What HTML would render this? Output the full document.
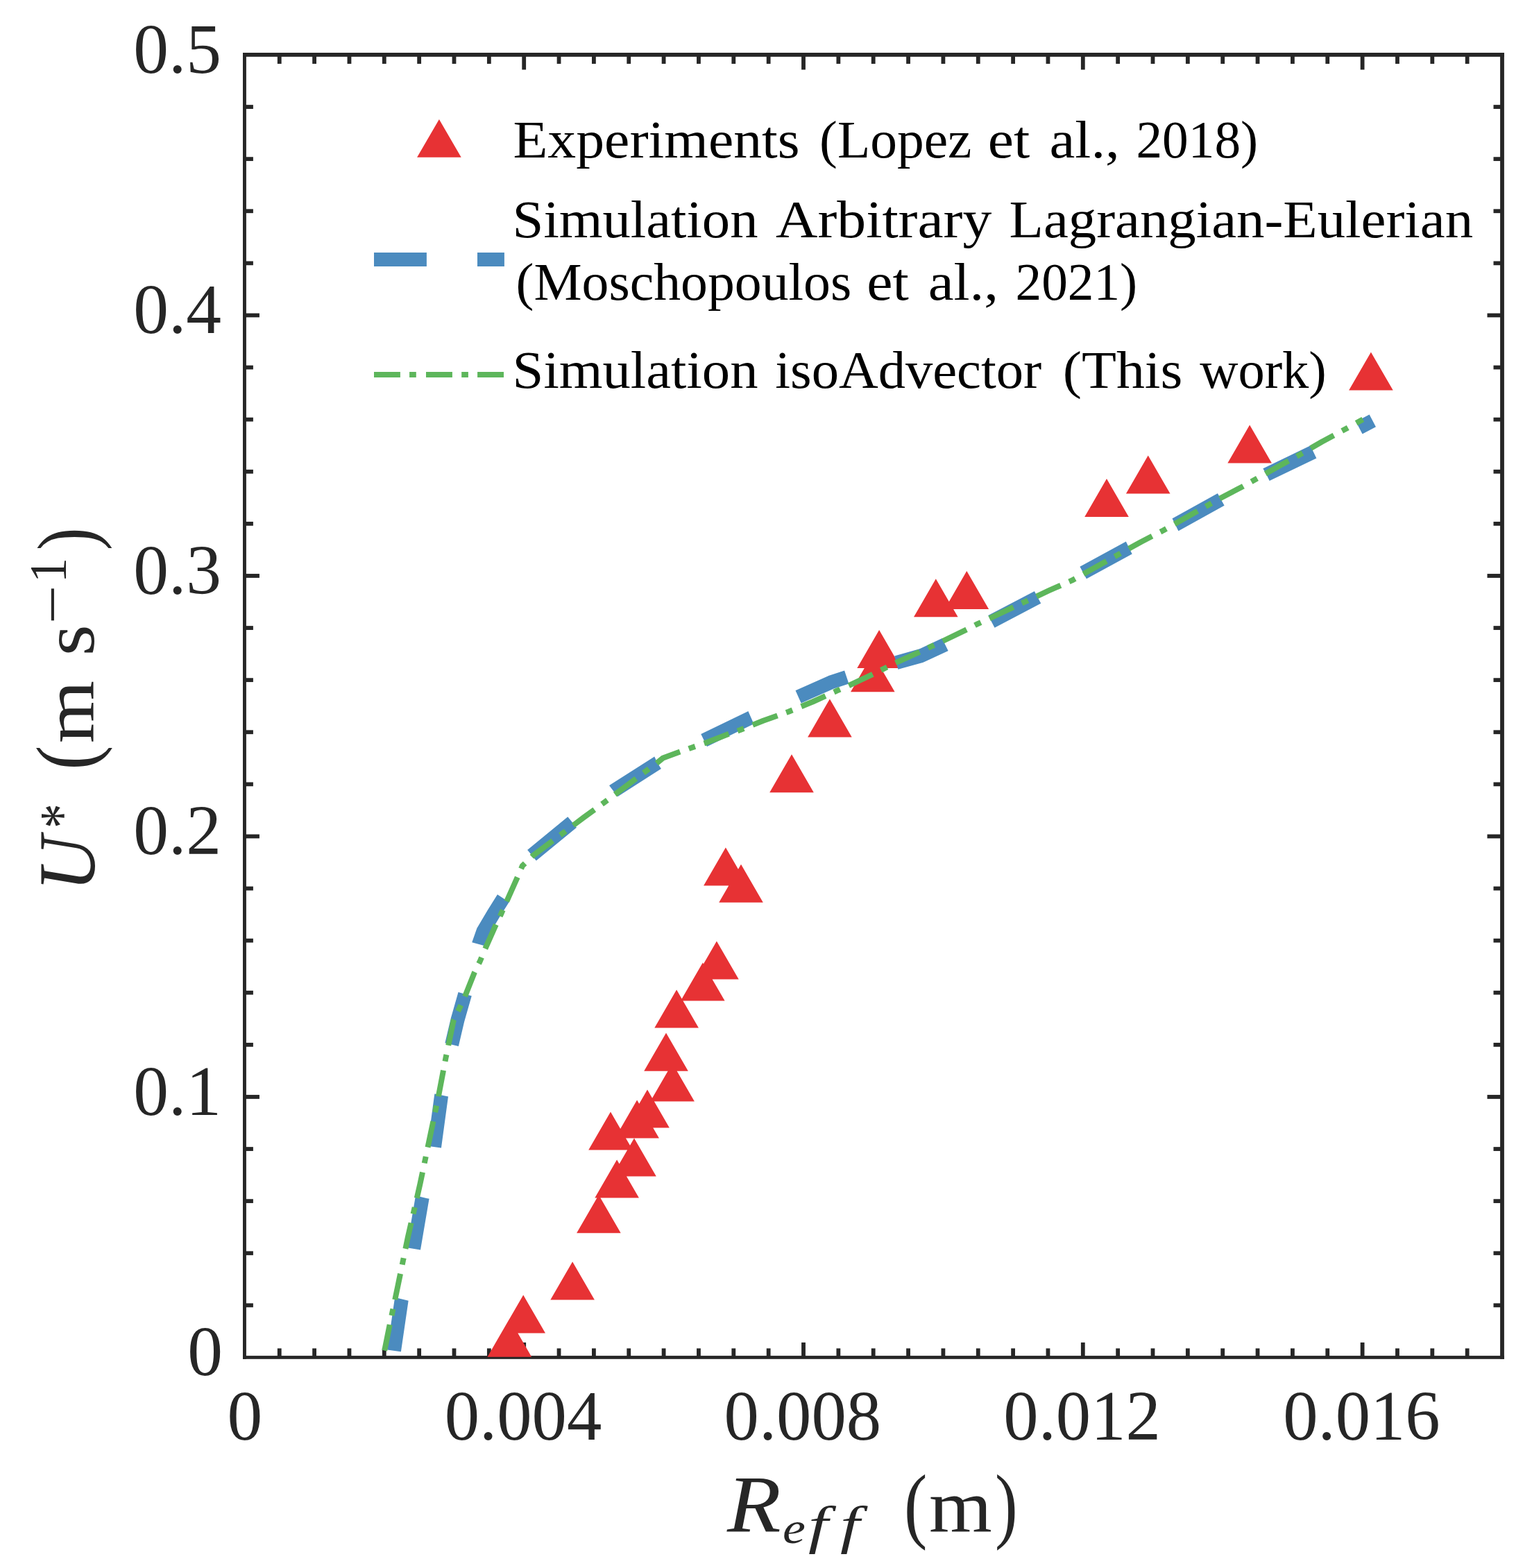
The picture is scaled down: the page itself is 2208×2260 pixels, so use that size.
<!DOCTYPE html>
<html><head><meta charset="utf-8"><title>U* vs R_eff</title>
<style>html,body{margin:0;padding:0;background:#fff;overflow:hidden}svg{display:block}text{font-kerning:none;font-variant-ligatures:none;font-family:"Liberation Serif",serif}</style>
</head><body>
<svg width="2208" height="2260" viewBox="0 0 2208 2260">
<rect width="2208" height="2260" fill="#fff"/>
<g fill="#262626"><rect x="350.0" y="76.0" width="4.9" height="1882.8"/><rect x="350.0" y="1954.1" width="1817.9" height="4.7"/><rect x="350.0" y="76.0" width="1817.9" height="5.8"/><rect x="2162.1" y="76.0" width="5.8" height="1882.8"/><rect x="399.85" y="1943.45" width="5.8" height="13.00"/><rect x="399.85" y="78.95" width="5.8" height="13.00"/><rect x="450.20" y="1943.45" width="5.8" height="13.00"/><rect x="450.20" y="78.95" width="5.8" height="13.00"/><rect x="500.55" y="1943.45" width="5.8" height="13.00"/><rect x="500.55" y="78.95" width="5.8" height="13.00"/><rect x="550.90" y="1943.45" width="5.8" height="13.00"/><rect x="550.90" y="78.95" width="5.8" height="13.00"/><rect x="601.25" y="1943.45" width="5.8" height="13.00"/><rect x="601.25" y="78.95" width="5.8" height="13.00"/><rect x="651.60" y="1943.45" width="5.8" height="13.00"/><rect x="651.60" y="78.95" width="5.8" height="13.00"/><rect x="701.95" y="1943.45" width="5.8" height="13.00"/><rect x="701.95" y="78.95" width="5.8" height="13.00"/><rect x="752.30" y="1934.95" width="5.8" height="21.50"/><rect x="752.30" y="78.95" width="5.8" height="21.50"/><rect x="802.65" y="1943.45" width="5.8" height="13.00"/><rect x="802.65" y="78.95" width="5.8" height="13.00"/><rect x="853.00" y="1943.45" width="5.8" height="13.00"/><rect x="853.00" y="78.95" width="5.8" height="13.00"/><rect x="903.35" y="1943.45" width="5.8" height="13.00"/><rect x="903.35" y="78.95" width="5.8" height="13.00"/><rect x="953.70" y="1943.45" width="5.8" height="13.00"/><rect x="953.70" y="78.95" width="5.8" height="13.00"/><rect x="1004.05" y="1943.45" width="5.8" height="13.00"/><rect x="1004.05" y="78.95" width="5.8" height="13.00"/><rect x="1054.40" y="1943.45" width="5.8" height="13.00"/><rect x="1054.40" y="78.95" width="5.8" height="13.00"/><rect x="1104.75" y="1943.45" width="5.8" height="13.00"/><rect x="1104.75" y="78.95" width="5.8" height="13.00"/><rect x="1155.10" y="1934.95" width="5.8" height="21.50"/><rect x="1155.10" y="78.95" width="5.8" height="21.50"/><rect x="1205.45" y="1943.45" width="5.8" height="13.00"/><rect x="1205.45" y="78.95" width="5.8" height="13.00"/><rect x="1255.80" y="1943.45" width="5.8" height="13.00"/><rect x="1255.80" y="78.95" width="5.8" height="13.00"/><rect x="1306.15" y="1943.45" width="5.8" height="13.00"/><rect x="1306.15" y="78.95" width="5.8" height="13.00"/><rect x="1356.50" y="1943.45" width="5.8" height="13.00"/><rect x="1356.50" y="78.95" width="5.8" height="13.00"/><rect x="1406.85" y="1943.45" width="5.8" height="13.00"/><rect x="1406.85" y="78.95" width="5.8" height="13.00"/><rect x="1457.20" y="1943.45" width="5.8" height="13.00"/><rect x="1457.20" y="78.95" width="5.8" height="13.00"/><rect x="1507.55" y="1943.45" width="5.8" height="13.00"/><rect x="1507.55" y="78.95" width="5.8" height="13.00"/><rect x="1557.90" y="1934.95" width="5.8" height="21.50"/><rect x="1557.90" y="78.95" width="5.8" height="21.50"/><rect x="1608.25" y="1943.45" width="5.8" height="13.00"/><rect x="1608.25" y="78.95" width="5.8" height="13.00"/><rect x="1658.60" y="1943.45" width="5.8" height="13.00"/><rect x="1658.60" y="78.95" width="5.8" height="13.00"/><rect x="1708.95" y="1943.45" width="5.8" height="13.00"/><rect x="1708.95" y="78.95" width="5.8" height="13.00"/><rect x="1759.30" y="1943.45" width="5.8" height="13.00"/><rect x="1759.30" y="78.95" width="5.8" height="13.00"/><rect x="1809.65" y="1943.45" width="5.8" height="13.00"/><rect x="1809.65" y="78.95" width="5.8" height="13.00"/><rect x="1860.00" y="1943.45" width="5.8" height="13.00"/><rect x="1860.00" y="78.95" width="5.8" height="13.00"/><rect x="1910.35" y="1943.45" width="5.8" height="13.00"/><rect x="1910.35" y="78.95" width="5.8" height="13.00"/><rect x="1960.70" y="1934.95" width="5.8" height="21.50"/><rect x="1960.70" y="78.95" width="5.8" height="21.50"/><rect x="2011.05" y="1943.45" width="5.8" height="13.00"/><rect x="2011.05" y="78.95" width="5.8" height="13.00"/><rect x="2061.40" y="1943.45" width="5.8" height="13.00"/><rect x="2061.40" y="78.95" width="5.8" height="13.00"/><rect x="2111.75" y="1943.45" width="5.8" height="13.00"/><rect x="2111.75" y="78.95" width="5.8" height="13.00"/><rect x="352.40" y="1878.45" width="12.50" height="5.8"/><rect x="2152.50" y="1878.45" width="12.50" height="5.8"/><rect x="352.40" y="1803.35" width="12.50" height="5.8"/><rect x="2152.50" y="1803.35" width="12.50" height="5.8"/><rect x="352.40" y="1728.25" width="12.50" height="5.8"/><rect x="2152.50" y="1728.25" width="12.50" height="5.8"/><rect x="352.40" y="1653.15" width="12.50" height="5.8"/><rect x="2152.50" y="1653.15" width="12.50" height="5.8"/><rect x="352.40" y="1578.05" width="21.50" height="5.8"/><rect x="2143.50" y="1578.05" width="21.50" height="5.8"/><rect x="352.40" y="1502.95" width="12.50" height="5.8"/><rect x="2152.50" y="1502.95" width="12.50" height="5.8"/><rect x="352.40" y="1427.85" width="12.50" height="5.8"/><rect x="2152.50" y="1427.85" width="12.50" height="5.8"/><rect x="352.40" y="1352.75" width="12.50" height="5.8"/><rect x="2152.50" y="1352.75" width="12.50" height="5.8"/><rect x="352.40" y="1277.65" width="12.50" height="5.8"/><rect x="2152.50" y="1277.65" width="12.50" height="5.8"/><rect x="352.40" y="1202.55" width="21.50" height="5.8"/><rect x="2143.50" y="1202.55" width="21.50" height="5.8"/><rect x="352.40" y="1127.45" width="12.50" height="5.8"/><rect x="2152.50" y="1127.45" width="12.50" height="5.8"/><rect x="352.40" y="1052.35" width="12.50" height="5.8"/><rect x="2152.50" y="1052.35" width="12.50" height="5.8"/><rect x="352.40" y="977.25" width="12.50" height="5.8"/><rect x="2152.50" y="977.25" width="12.50" height="5.8"/><rect x="352.40" y="902.15" width="12.50" height="5.8"/><rect x="2152.50" y="902.15" width="12.50" height="5.8"/><rect x="352.40" y="827.05" width="21.50" height="5.8"/><rect x="2143.50" y="827.05" width="21.50" height="5.8"/><rect x="352.40" y="751.95" width="12.50" height="5.8"/><rect x="2152.50" y="751.95" width="12.50" height="5.8"/><rect x="352.40" y="676.85" width="12.50" height="5.8"/><rect x="2152.50" y="676.85" width="12.50" height="5.8"/><rect x="352.40" y="601.75" width="12.50" height="5.8"/><rect x="2152.50" y="601.75" width="12.50" height="5.8"/><rect x="352.40" y="526.65" width="12.50" height="5.8"/><rect x="2152.50" y="526.65" width="12.50" height="5.8"/><rect x="352.40" y="451.55" width="21.50" height="5.8"/><rect x="2143.50" y="451.55" width="21.50" height="5.8"/><rect x="352.40" y="376.45" width="12.50" height="5.8"/><rect x="2152.50" y="376.45" width="12.50" height="5.8"/><rect x="352.40" y="301.35" width="12.50" height="5.8"/><rect x="2152.50" y="301.35" width="12.50" height="5.8"/><rect x="352.40" y="226.25" width="12.50" height="5.8"/><rect x="2152.50" y="226.25" width="12.50" height="5.8"/><rect x="352.40" y="151.15" width="12.50" height="5.8"/><rect x="2152.50" y="151.15" width="12.50" height="5.8"/></g>
<path fill="#E73234" d="M734.3 1900.7L766.1 1955.7L702.5 1955.7ZM754.2 1866.5L786.0 1921.5L722.4 1921.5ZM825.1 1818.6L856.9 1873.6L793.3 1873.6ZM862.9 1722.3L894.7 1777.3L831.1 1777.3ZM889.1 1671.5L920.9 1726.5L857.3 1726.5ZM914.0 1640.4L945.8 1695.4L882.2 1695.4ZM880.0 1602.6L911.8 1657.6L848.2 1657.6ZM918.1 1585.5L949.9 1640.5L886.3 1640.5ZM933.0 1570.5L964.8 1625.5L901.2 1625.5ZM969.1 1532.5L1000.9 1587.5L937.3 1587.5ZM960.0 1488.7L991.8 1543.7L928.2 1543.7ZM975.1 1426.4L1006.9 1481.4L943.3 1481.4ZM1012.8 1387.6L1044.6 1442.6L981.0 1442.6ZM1032.9 1356.4L1064.7 1411.4L1001.1 1411.4ZM1068.0 1245.8L1099.8 1300.8L1036.2 1300.8ZM1045.9 1221.5L1077.7 1276.5L1014.1 1276.5ZM1141.0 1087.3L1172.8 1142.3L1109.2 1142.3ZM1195.9 1007.4L1227.7 1062.4L1164.1 1062.4ZM1257.8 942.3L1289.6 997.3L1226.0 997.3ZM1267.1 908.1L1298.9 963.1L1235.3 963.1ZM1348.8 834.3L1380.6 889.3L1317.0 889.3ZM1393.3 823.0L1425.1 878.0L1361.5 878.0ZM1595.0 690.0L1626.8 745.0L1563.2 745.0ZM1654.7 656.6L1686.5 711.6L1622.9 711.6ZM1801.1 612.6L1832.9 667.6L1769.3 667.6ZM1975.9 507.6L2007.7 562.6L1944.1 562.6Z"/>
<polyline points="568.0,1946.9 578.7,1873.5 596.1,1800.1 608.7,1726.0 626.0,1653.5 635.9,1580.3 651.0,1506.1 659.5,1470.0 670.0,1433.2 690.0,1360.5 696.5,1342.0 711.0,1317.5 724.6,1295.9 766.0,1233.2 824.8,1184.9 884.7,1139.7 947.5,1099.6 1014.7,1067.0 1081.9,1034.4 1150.4,1004.4 1197.3,983.6 1220.6,975.8 1291.6,955.1 1328.0,945.0 1362.0,929.1 1428.3,896.2 1495.4,861.0 1561.6,825.3 1626.8,789.7 1694.6,756.0 1759.5,720.1 1825.3,683.9 1894.2,650.8 1978.3,606.4" fill="none" stroke="#4B8BBF" stroke-width="20" stroke-dasharray="75.3 74.5" stroke-linejoin="round" stroke-linecap="butt"/>
<polyline points="554.2,1946.6 561.4,1910.8 573.4,1853.5 588.1,1782.1 605.4,1706.7 631.9,1580.3 642.4,1525.1 653.6,1471.3 670.0,1436.5 683.8,1401.7 692.0,1385.0 699.5,1367.0 714.6,1333.2 722.5,1316.7 730.4,1298.8 745.5,1265.0 752.9,1247.9 768.1,1233.2 810.1,1201.7 841.6,1178.0 871.0,1156.5 900.4,1134.5 930.5,1111.8 946.2,1100.3 955.7,1092.4 967.2,1088.2 996.6,1077.7 1015.0,1071.4 1049.2,1058.3 1067.0,1052.0 1100.0,1038.8 1136.7,1025.7 1171.3,1011.5 1206.0,995.7 1223.1,988.2 1256.7,972.4 1290.3,955.6 1325.0,939.9 1358.6,924.1 1392.2,907.8 1408.7,899.4 1511.8,851.2 1545.2,836.4 1644.2,781.2 1676.6,764.5 1756.3,719.4 1791.0,701.3 1839.8,673.7 1872.9,655.6 1905.2,636.7 1937.5,619.3 1958.8,607.5 1964.3,604.5" fill="none" stroke="#5DB65B" stroke-width="8" stroke-dasharray="38.1 13.4 9.7 13.7" stroke-linejoin="round" stroke-linecap="butt"/>
<g fill="#262626"><text x="192.13" y="1606.65" font-size="101.5">0.1</text><text x="192.13" y="1231.15" font-size="101.5">0.2</text><text x="192.13" y="855.65" font-size="101.5">0.3</text><text x="192.13" y="480.15" font-size="101.5">0.4</text><text x="192.13" y="104.65" font-size="101.5">0.5</text><text x="270.33" y="1981.95" font-size="101.5">0</text><text x="327.53" y="2074.6" font-size="101.5">0</text><text transform="matrix(0.992 0 0 1 640.77 2074.6)" font-size="101.5">0.004</text><text transform="matrix(0.992 0 0 1 1043.57 2074.6)" font-size="101.5">0.008</text><text transform="matrix(0.992 0 0 1 1446.37 2074.6)" font-size="101.5">0.012</text><text transform="matrix(0.992 0 0 1 1849.17 2074.6)" font-size="101.5">0.016</text></g>
<g><text transform="matrix(1.2708 0 0 1.1546 1047.88 2208.40)" font-size="100" font-style="italic" fill="#262626">R</text><text transform="matrix(0.7398 0 0 0.6300 1127.92 2224.18)" font-size="100" font-style="italic" fill="#262626">e</text><text transform="matrix(1.0240 0 0 0.7557 1165.05 2223.81)" font-size="100" font-style="italic" fill="#262626">f</text><text transform="matrix(1.0109 0 0 0.7557 1210.96 2223.81)" font-size="100" font-style="italic" fill="#262626">f</text><text transform="matrix(1.0006 0 0 1.2098 1303.00 2209.14)" font-size="100" fill="#262626">(</text><text transform="matrix(1.1670 0 0 1.0802 1338.95 2208.40)" font-size="100" fill="#262626">m</text><text transform="matrix(0.9812 0 0 1.2098 1434.04 2209.14)" font-size="100" fill="#262626">)</text></g>
<g transform="rotate(-90)"><text transform="matrix(1.1058 0 0 1.1572 -1284.65 135.67)" font-size="100" font-style="italic" fill="#262626">U</text><text transform="matrix(0.7141 0 0 0.8945 -1194.09 117.67)" font-size="100" fill="#262626">*</text><text transform="matrix(1.0513 0 0 1.2021 -1109.42 136.31)" font-size="100" fill="#262626">(</text><text transform="matrix(1.1630 0 0 1.0357 -1071.34 134.90)" font-size="100" fill="#262626">m</text><text transform="matrix(1.1570 0 0 1.0604 -945.15 134.96)" font-size="100" fill="#262626">s</text><text transform="matrix(0.9885 0 0 0.8232 -899.32 102.88)" font-size="100" fill="#262626">−</text><text transform="matrix(0.7215 0 0 0.7710 -839.94 94.90)" font-size="100" fill="#262626">1</text><text transform="matrix(0.9890 0 0 1.1955 -793.19 135.95)" font-size="100" fill="#262626">)</text></g>
<g><path fill="#E73234" d="M632.9 171.9L664.7 226.8L601.1 226.8Z"/><line x1="539.0" y1="374.0" x2="726.9" y2="374.0" stroke="#4B8BBF" stroke-width="20" stroke-dasharray="75.9 73.1"/><line x1="539.0" y1="540.0" x2="726.9" y2="540.0" stroke="#5DB65B" stroke-width="8" stroke-dasharray="37.9 13.2 9.7 14.2 37.9 13.3 9.7 13.2"/><text transform="matrix(1.0687 0 0 1 739.44 227.10)" font-size="76.5" fill="#000">Experiments</text><text transform="matrix(1.0127 0 0 1 1181.10 227.10)" font-size="76.5" fill="#000">(Lopez</text><text transform="matrix(1.0952 0 0 1 1423.73 227.10)" font-size="76.5" fill="#000">et</text><text transform="matrix(1.0832 0 0 1 1512.59 227.10)" font-size="76.5" fill="#000">al.,</text><text transform="matrix(0.9840 0 0 1 1637.49 227.10)" font-size="76.5" fill="#000">2018)</text><text transform="matrix(1.0540 0 0 1 738.61 342.00)" font-size="76.5" fill="#000">Simulation</text><text transform="matrix(1.0935 0 0 1 1118.08 342.00)" font-size="76.5" fill="#000">Arbitrary</text><text transform="matrix(1.0563 0 0 1 1454.57 342.00)" font-size="76.5" fill="#000">Lagrangian-Eulerian</text><text transform="matrix(1.0162 0 0 1 743.58 432.20)" font-size="76.5" fill="#000">(Moschopoulos</text><text transform="matrix(1.0971 0 0 1 1249.32 432.20)" font-size="76.5" fill="#000">et</text><text transform="matrix(1.0855 0 0 1 1337.68 432.20)" font-size="76.5" fill="#000">al.,</text><text transform="matrix(0.9840 0 0 1 1463.59 432.20)" font-size="76.5" fill="#000">2021)</text><text transform="matrix(1.0540 0 0 1 738.61 559.20)" font-size="76.5" fill="#000">Simulation</text><text transform="matrix(1.0271 0 0 1 1117.25 559.20)" font-size="76.5" fill="#000">isoAdvector</text><text transform="matrix(1.0692 0 0 1 1531.71 559.20)" font-size="76.5" fill="#000">(This</text><text transform="matrix(0.9991 0 0 1 1729.23 559.20)" font-size="76.5" fill="#000">work)</text></g>
</svg></body></html>
